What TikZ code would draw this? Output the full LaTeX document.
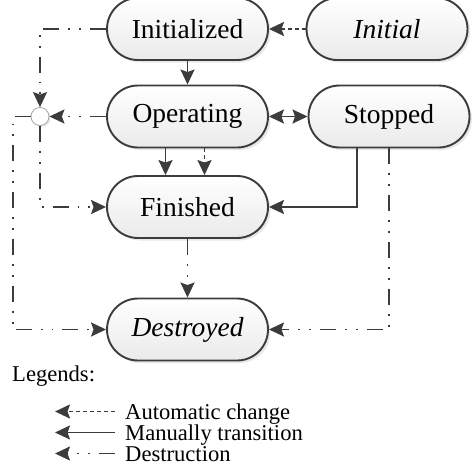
\documentclass[tikz,border=0pt]{standalone}
\usepackage{fontspec}
\setmainfont{Liberation Serif}
\usetikzlibrary{positioning, arrows.meta, shadows}

\definecolor{lineGray}{RGB}{60,60,60}
\definecolor{fillGray}{RGB}{234,234,234}

\tikzset{
  state/.style={draw=lineGray, line width=1.9pt, rounded corners=31pt,
    minimum width=161pt, minimum height=62pt, inner sep=0pt,
    top color=white, bottom color=fillGray,
    drop shadow={opacity=0.18, shadow xshift=2.5pt, shadow yshift=-2.5pt},
    font=\fontsize{27.5}{30}\selectfont},
  tip/.style={-{Stealth[length=15pt, width=14pt, inset=2.5pt]}},
  bothtips/.style={{Stealth[length=15pt, width=14pt, inset=2.5pt]}-{Stealth[length=15pt, width=14pt, inset=2.5pt]}},
  manualline/.style={draw=lineGray, line width=1.9pt, tip},
  autoline/.style={draw=lineGray, line width=1.9pt, tip, dash pattern=on 4pt off 3pt},
  destrline/.style={draw=lineGray, line width=1.9pt, tip,
    dash pattern=on 16pt off 9pt on 1.9pt off 9pt on 1.9pt off 9pt},
  legtext/.style={inner sep=0pt, font=\fontsize{22.6}{24}\selectfont}
}

\begin{document}
\begin{tikzpicture}[x=1pt, y=-1pt]
  \useasboundingbox (0,0) rectangle (474,474);

  % states
  \node[state] (initd) at (187.5,29) {Initialized};
  \node[state] (initial) at (387,29) {\itshape Initial};
  \node[state] (oper) at (187.5,116.5) {Operating};
  \node[state] (stop) at (389,116.5) {Stopped};
  \node[state] (fin) at (187.5,207) {Finished};
  \node[state] (destr) at (187.5,329.5) {\itshape Destroyed};
  \node[circle, draw=gray!70, line width=0.8pt, fill=white, minimum size=18pt, inner sep=0pt,
    drop shadow={opacity=0.18, shadow xshift=1.5pt, shadow yshift=-1.5pt}] (junc) at (40,116.5) {};

  % transitions
  \draw[autoline] (initial) -- (initd);
  \draw[manualline] (initd) -- (oper);
  \draw[manualline, bothtips] (oper) -- (stop);
  \draw[manualline] ([xshift=-22pt]oper.south) -- ([xshift=-22pt]fin.north);
  \draw[autoline] ([xshift=17pt]oper.south) -- ([xshift=17pt]fin.north);
  \draw[manualline] ([xshift=-32pt]stop.south) |- (fin.east);
  \draw[destrline] (stop.south) |- (destr.east);
  \draw[destrline] (fin) -- (destr);

  % destruction paths
  \draw[destrline] (initd.west) -| (junc.north);
  \draw[destrline] (oper.west) -- (junc.east);
  \draw[destrline] (junc.south) |- (fin.west);
  \draw[destrline] (junc.west) -- ++(-18,0) |- (destr.west);

  % legend
  \node[legtext, anchor=base west] (legTitle) at (12,381) {Legends:};
  \foreach \lstyle/\ltext [count=\i] in {autoline/Automatic change, manualline/Manually transition, destrline/Destruction}{
    \pgfmathsetmacro{\rowY}{398+21*\i}
    \coordinate (legS\i) at (115,\rowY-7.5);
    \coordinate (legE\i) at (55,\rowY-7.5);
    \draw[\lstyle] (legS\i) -- (legE\i);
    \node[legtext, anchor=base west] (leg\i) at (125,\rowY) {\ltext};
  }
\end{tikzpicture}
\end{document}
